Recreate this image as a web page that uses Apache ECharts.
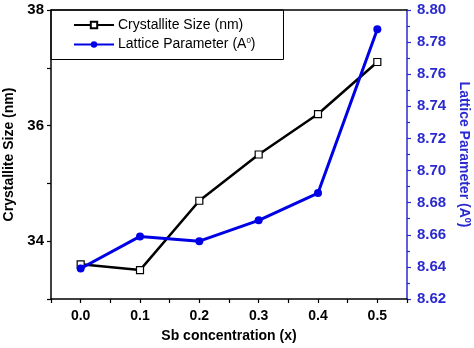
<!DOCTYPE html>
<html>
<head>
<meta charset="utf-8">
<script src="https://cdn.jsdelivr.net/npm/echarts@6/dist/echarts.min.js"></script>
<style>html,body{margin:0;padding:0;background:#fff}#c{width:474px;height:348px}</style>
</head>
<body>
<div id="c"></div>
<script>
var xValues = [0.0, 0.1, 0.2, 0.3, 0.4, 0.5];
var crystalliteSize = [33.6, 33.5, 34.7, 35.5, 36.2, 37.1];
var latticeParameter = [8.639, 8.659, 8.656, 8.669, 8.686, 8.788];
var seriesNames = ['Crystallite Size (nm)', 'Lattice Parameter (A0)'];

var BLUE = '#0000e6';
var AXBLUE = '#2a2ad0';
var FONT = 'Liberation Sans, Arial, sans-serif';

var chart = echarts.init(document.getElementById('c'), null, {renderer: 'canvas'});
chart.setOption({
  animation: false,
  backgroundColor: '#fff',
  grid: {left: 51, right: 67, top: 10, bottom: 49, containLabel: false, outerBoundsMode: 'none'},
  legend: {
    left: 51, top: 10, orient: 'vertical',
    data: seriesNames,
    borderColor: '#000', borderWidth: 1, borderRadius: 0,
    padding: [8, 28, 8, 22],
    itemGap: 5, itemWidth: 40, itemHeight: 8,
    textStyle: {fontFamily: FONT, fontSize: 14, color: '#000', padding: [0,0,0,-1],
      rich: {sup: {fontSize: 8, verticalAlign: 'top', padding: [0,0,7,0], fontFamily: FONT, color: '#000'}}},
    formatter: function (n) {
      if (n === seriesNames[1]) return 'Lattice Parameter (A{sup|0})';
      return n;
    }
  },
  xAxis: [{
    type: 'value', min: -0.05, max: 0.55, interval: 0.05, position: 'bottom',
    name: 'Sb concentration (x)', nameLocation: 'middle', nameGap: 30,
    nameTextStyle: {fontFamily: FONT, fontSize: 14, fontWeight: 'bold', color: '#000'},
    axisLine: {show: true, onZero: false, lineStyle: {color: '#000', width: 1.5}},
    axisTick: {show: true, inside: false, length: 4, lineStyle: {color: '#000', width: 1.2}},
    axisLabel: {fontFamily: FONT, fontSize: 14, fontWeight: 'bold', color: '#000', margin: 10,
      formatter: function (v) {
        var t = v * 10;
        if (Math.abs(t - Math.round(t)) < 1e-6) return (Math.round(t) / 10).toFixed(1);
        return '';
      }},
    splitLine: {show: false}
  }, {
    type: 'value', min: -0.05, max: 0.55, position: 'top',
    axisLine: {show: true, onZero: false, lineStyle: {color: '#000', width: 1.5}},
    axisTick: {show: false}, axisLabel: {show: false}, splitLine: {show: false}
  }],
  yAxis: [{
    type: 'value', min: 33, max: 38, interval: 1, position: 'left',
    name: 'Crystallite Size (nm)', nameLocation: 'middle', nameGap: 26, nameRotate: 90,
    nameTextStyle: {fontFamily: FONT, fontSize: 14, fontWeight: 'bold', color: '#000'},
    axisLine: {show: true, onZero: false, lineStyle: {color: '#000', width: 1.5}},
    axisTick: {show: true, inside: false, length: 4, lineStyle: {color: '#000', width: 1.2}},
    axisLabel: {fontFamily: FONT, fontSize: 15, fontWeight: 'bold', color: '#000', margin: 7,
      formatter: function (v) { return (Math.round(v) % 2 === 0) ? String(Math.round(v)) : ''; }},
    splitLine: {show: false}
  }, {
    type: 'value', min: 8.62, max: 8.80, interval: 0.02, position: 'right',
    name: 'Lattice Parameter (A{sup|0})', nameLocation: 'middle', nameGap: 48, nameRotate: -90,
    nameTextStyle: {fontFamily: FONT, fontSize: 14, fontWeight: 'bold', color: AXBLUE,
      rich: {sup: {fontSize: 9, fontWeight: 'bold', color: AXBLUE, fontFamily: FONT, verticalAlign: 'top', padding: [0,0,7,0]}}},
    axisLine: {show: true, onZero: false, lineStyle: {color: AXBLUE, width: 1.5}},
    axisTick: {show: true, inside: false, length: 4, lineStyle: {color: AXBLUE, width: 1.2}},
    minorTick: {show: true, splitNumber: 2, length: 3, lineStyle: {color: AXBLUE, width: 1.2}},
    axisLabel: {fontFamily: FONT, fontSize: 15, fontWeight: 'bold', color: AXBLUE, margin: 10,
      formatter: function (v) { return v.toFixed(2); }},
    splitLine: {show: false}, minorSplitLine: {show: false}
  }],
  series: [{
    name: seriesNames[0], type: 'line', xAxisIndex: 0, yAxisIndex: 0,
    data: xValues.map(function (x, i) { return [x, crystalliteSize[i]]; }),
    symbol: 'rect', symbolSize: 7,
    lineStyle: {color: '#000', width: 2.5},
    itemStyle: {color: '#fff', borderColor: '#000', borderWidth: 1.2},
    z: 3
  }, {
    name: seriesNames[1], type: 'line', xAxisIndex: 0, yAxisIndex: 1,
    data: xValues.map(function (x, i) { return [x, latticeParameter[i]]; }),
    symbol: 'circle', symbolSize: 8,
    lineStyle: {color: BLUE, width: 3},
    itemStyle: {color: BLUE, borderColor: BLUE, borderWidth: 0},
    z: 4
  }]
});
</script>
</body>
</html>
